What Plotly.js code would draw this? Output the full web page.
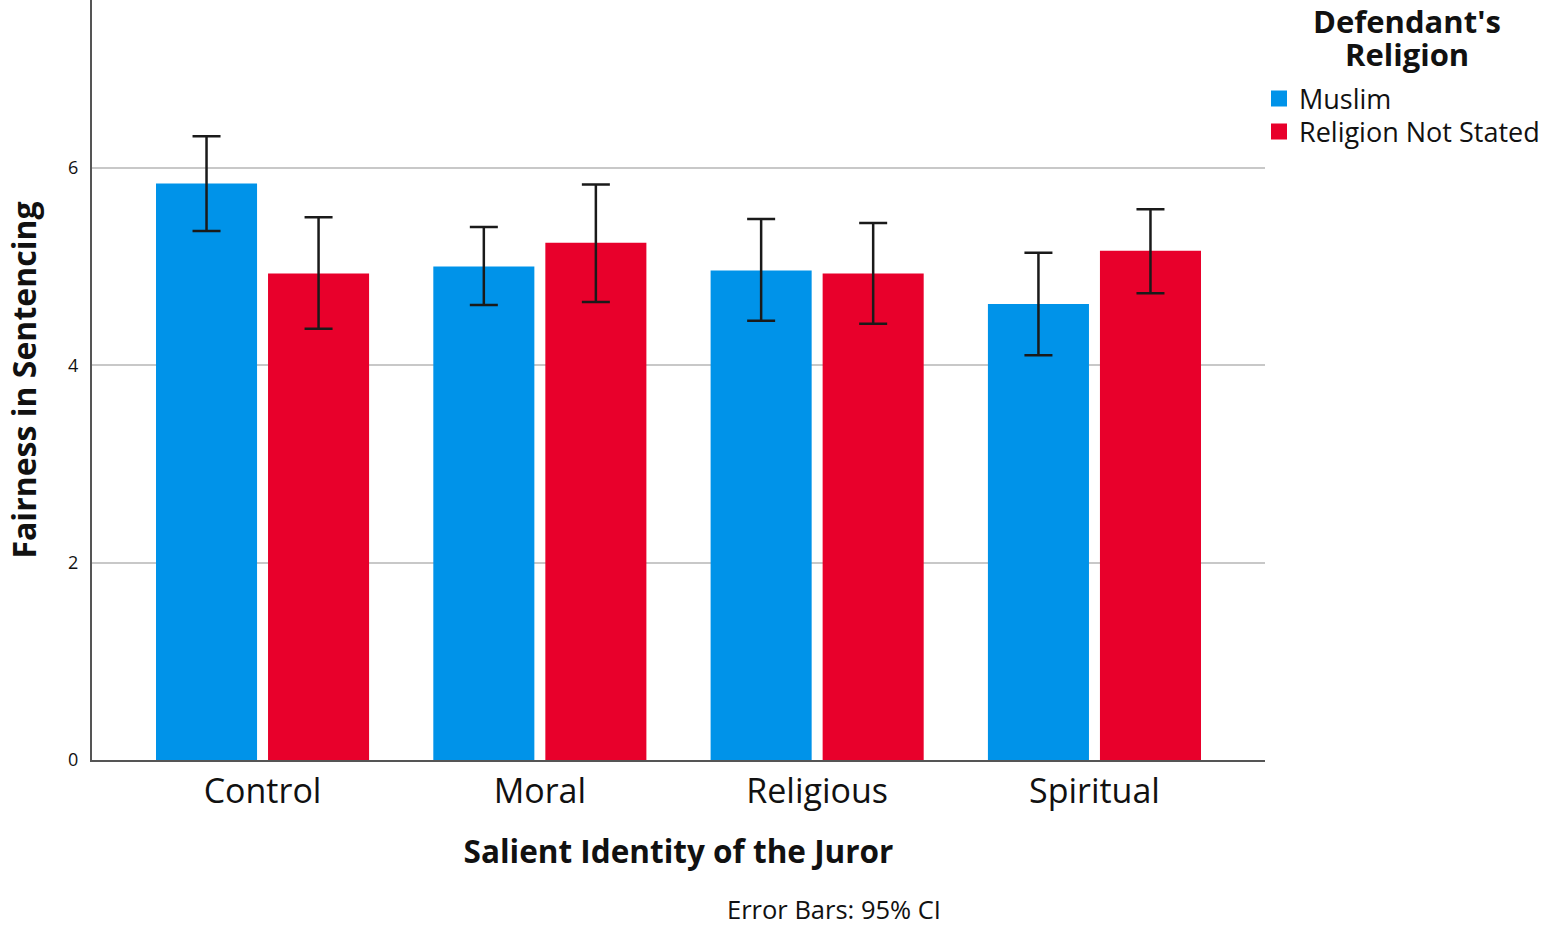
<!DOCTYPE html>
<html>
<head>
<meta charset="utf-8">
<script src="https://cdn.plot.ly/plotly-3.0.1.min.js"></script>
<style>
  html, body { margin: 0; padding: 0; background: #fff; }
  #plot { width: 1549px; height: 927px; }
</style>
</head>
<body>
<div id="plot"></div>
<script>
var categories = ['Control', 'Moral', 'Religious', 'Spiritual'];

// means and 95% CI bounds
var muslimMean = [5.84, 5.00, 4.96, 4.62];
var muslimUpper = [6.32, 5.40, 5.48, 5.14];
var muslimLower = [5.36, 4.61, 4.45, 4.10];

var notStatedMean = [4.93, 5.24, 4.93, 5.16];
var notStatedUpper = [5.50, 5.83, 5.44, 5.58];
var notStatedLower = [4.37, 4.64, 4.42, 4.73];

var blue = '#0093e9';
var red = '#e8002b';

function diff(a, b) {
  return a.map(function (v, i) { return +(v - b[i]).toFixed(3); });
}

var font = 'Open Sans, sans-serif';

var errStyle = {
  type: 'data',
  symmetric: false,
  color: '#1a1a1a',
  thickness: 2.5,
  width: 14
};

var trace1 = {
  x: categories,
  y: muslimMean,
  name: 'Muslim',
  type: 'bar',
  showlegend: false,
  marker: { color: blue },
  error_y: Object.assign({}, errStyle, {
    array: diff(muslimUpper, muslimMean),
    arrayminus: diff(muslimMean, muslimLower)
  })
};

var trace2 = {
  x: categories,
  y: notStatedMean,
  name: 'Religion Not Stated',
  type: 'bar',
  showlegend: false,
  marker: { color: red },
  error_y: Object.assign({}, errStyle, {
    array: diff(notStatedUpper, notStatedMean),
    arrayminus: diff(notStatedMean, notStatedLower)
  })
};

// legend entries with bigger square swatches
function legendKey(name, color, legendId) {
  return {
    x: [null],
    y: [null],
    name: name,
    type: 'scatter',
    mode: 'markers',
    legend: legendId,
    hoverinfo: 'skip',
    marker: { symbol: 'square', size: 22, color: color, line: { width: 0 } }
  };
}

var data = [trace1, trace2,
  legendKey('Muslim', blue, 'legend'),
  legendKey('Religion Not Stated', red, 'legend2')];

var legendBase = {
  xref: 'container',
  yref: 'container',
  x: 1259 / 1549,
  xanchor: 'left',
  yanchor: 'middle',
  itemsizing: 'trace',
  font: { size: 27, family: font, color: '#111' },
  bgcolor: 'rgba(0,0,0,0)',
  borderwidth: 0
};

function headLine(text, yPx) {
  return {
    text: '<b>' + text + '</b>',
    xref: 'paper',
    yref: 'paper',
    x: (1407 - 92) / 1173,
    y: (760 - yPx) / 760,
    xanchor: 'center',
    yanchor: 'middle',
    showarrow: false,
    font: { size: 31, family: font, color: '#111' }
  };
}

var layout = {
  width: 1549,
  height: 927,
  margin: { l: 92, r: 284, t: 0, b: 167, autoexpand: false },
  paper_bgcolor: '#fff',
  plot_bgcolor: '#fff',
  font: { family: font, color: '#111' },
  barmode: 'group',
  bargap: 0.192,
  bargroupgap: 0.098,
  xaxis: {
    range: [-0.615, 3.615],
    showline: true,
    linecolor: '#555',
    linewidth: 2,
    showgrid: false,
    ticks: '',
    tickfont: { size: 34, family: font, color: '#111' },
    title: {
      text: '<b>Salient Identity of the Juror</b>',
      font: { size: 31.5, family: font, color: '#111' },
      standoff: 29
    }
  },
  yaxis: {
    range: [0, 7.7],
    dtick: 2,
    showline: true,
    linecolor: '#555',
    linewidth: 2,
    showgrid: true,
    gridcolor: '#c8c8c8',
    gridwidth: 1.5,
    zeroline: false,
    ticks: '',
    ticklabelstandoff: 8,
    tickfont: { size: 18, family: font, color: '#111' },
    title: {
      text: '<b>Fairness in Sentencing</b>',
      font: { size: 32, family: font, color: '#111' },
      standoff: 22
    }
  },
  legend: Object.assign({}, legendBase, { y: 1 - 99 / 927 }),
  legend2: Object.assign({}, legendBase, { y: 1 - 132 / 927 }),
  annotations: [
    headLine('Defendant\'s', 21),
    headLine('Religion', 54),
    {
      text: 'Error Bars: 95% CI',
      xref: 'paper',
      yref: 'paper',
      x: (834 - 92) / 1173,
      y: -(909 - 760) / 760,
      xanchor: 'center',
      yanchor: 'middle',
      showarrow: false,
      borderpad: 0,
      font: { size: 25.5, family: font, color: '#111' }
    }
  ]
};

Plotly.newPlot('plot', data, layout, { displayModeBar: false });
</script>
</body>
</html>
